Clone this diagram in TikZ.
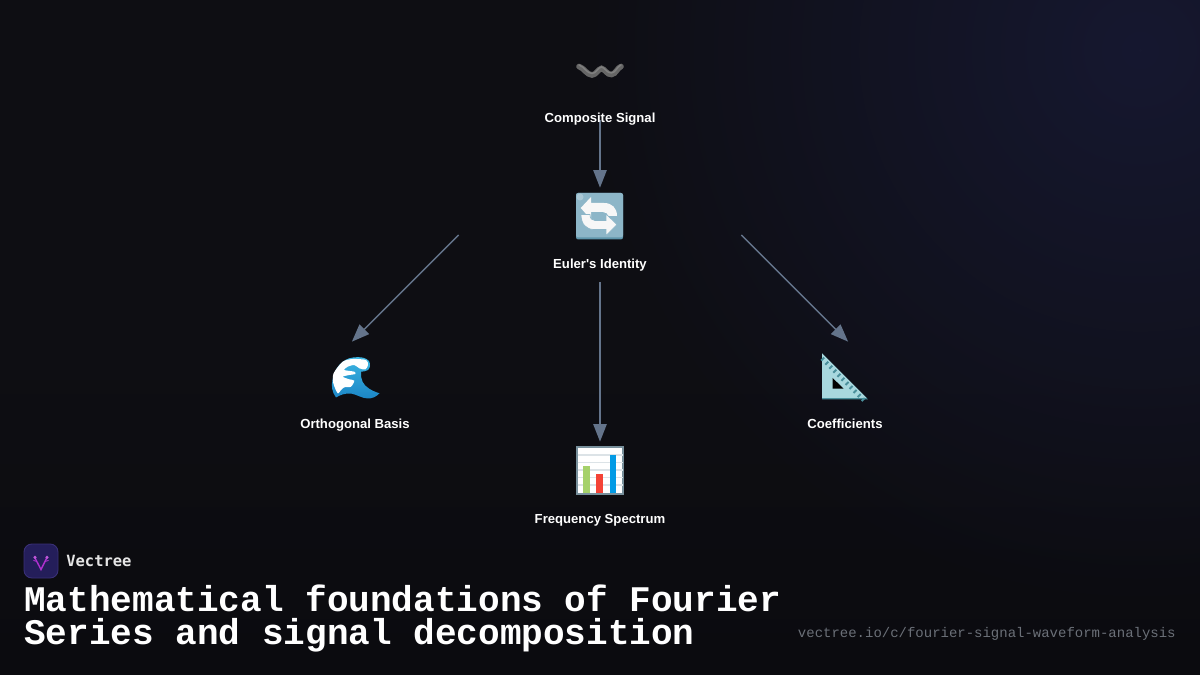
\documentclass[tikz,border=0pt]{standalone}
\usepackage{fontspec}
\setmainfont{Liberation Sans}
\setmonofont{Liberation Mono}
\newfontfamily\brandfont{DejaVu Sans Mono}
\usetikzlibrary{arrows.meta,fadings}
\definecolor{pagebg}{HTML}{0E0E13}
\definecolor{pagelow}{HTML}{0B0B0F}
\definecolor{glowblue}{HTML}{161830}
\definecolor{linkgray}{HTML}{64748B}
\definecolor{urlgray}{HTML}{6B7078}
\definecolor{tilefill}{HTML}{8DB6C8}
\definecolor{tileedge}{HTML}{5F96AC}
\definecolor{seadark}{HTML}{1C86C6}
\definecolor{sealight}{HTML}{3CB6E2}
\definecolor{rulerfill}{HTML}{A8D8DE}
\definecolor{rulerdark}{HTML}{4A8F9B}
\definecolor{logofill}{HTML}{241E5A}
\definecolor{logoedge}{HTML}{3A3078}
\definecolor{logomark}{HTML}{B030D0}
\definecolor{barframe}{HTML}{78909C}
\definecolor{bargrid}{HTML}{DCE3E7}
\definecolor{bargreen}{HTML}{A5D16A}
\definecolor{barred}{HTML}{F44336}
\definecolor{barblue}{HTML}{039BE5}
\tikzfading[name=glowfade, inner color=transparent!0, outer color=transparent!100]
\tikzset{
  hubbox/.style={minimum width=5.64cm, minimum height=1.88cm, inner sep=0pt},
  iconbox/.style={minimum width=1.2cm, minimum height=1.4cm, inner sep=0pt},
  caption/.style={text=white, font=\fontsize{7.47pt}{9pt}\bfseries\selectfont, inner sep=0pt, anchor=base},
  link/.style={draw=linkgray, line width=0.85pt, -{Triangle[length=10pt, width=7.6pt]}},
}
\begin{document}
\begin{tikzpicture}[x=0.02cm, y=-0.02cm]
\useasboundingbox (0,0) rectangle (1200,675);
% background
\shade[top color=pagebg, bottom color=pagelow, middle color=pagebg] (0,0) rectangle (1200,675);
\begin{scope}
\clip (0,0) rectangle (1200,675);
\fill[glowblue, path fading=glowfade] (1140,50) circle (560);
\end{scope}
% boxes
\node[hubbox] (signal) at (600,73) {};
\node[hubbox] (euler) at (600,235) {};
\node[iconbox] (basis) at (355,377) {};
\node[iconbox] (coef) at (845,377) {};
\node[hubbox] (spectrum) at (600,489) {};
% connectors
\draw[link] (signal.south) -- (euler.north);
\draw[link] (euler.west) -- (basis.95);
\draw[link] (euler.east) -- (coef.85);
\draw[link] (euler.south) -- (spectrum.north);
% wave line
\draw[color=black!60, line width=3.2pt, line cap=round] (579,66.5) .. controls (584,68) and (587,75) .. (592,75) .. controls (596,75) and (598,69) .. (601.5,68.5) .. controls (605,69) and (607,75) .. (611.5,74.5) .. controls (616,74) and (617,68) .. (621,66.5);
\draw[color=black!50, line width=0.8pt, line cap=round] (579,65) .. controls (584,66.5) and (587,73.5) .. (592,73.5) .. controls (596,73.5) and (598,67.5) .. (601.5,67) .. controls (605,67.5) and (607,73.5) .. (611.5,73) .. controls (616,72.5) and (617,66.5) .. (621,65);
% repeat tile
\fill[tileedge, rounded corners=1.2pt] (576,193) rectangle (623,239.5);
\fill[tilefill, rounded corners=1.2pt] (576,193) rectangle (623,237.5);
\fill[tilefill!75!white] (580,197) circle (3.5);
\fill[black!3] (580.7,208) -- (591,197) -- (591,203) -- (604,203) .. controls (612,203) and (617,208) .. (617,216) -- (608,216) .. controls (608,214) and (606,212) .. (603,212) -- (591,212) -- (591,219.5) -- cycle;
\fill[black!3, draw=tilefill, line width=0.4pt] (617,224.5) -- (606,235.5) -- (606,229.5) -- (594,229.5) .. controls (586,229.5) and (581,224) .. (581,214.5) -- (590,214.5) .. controls (590,218.5) and (592,220.5) .. (595,220.5) -- (606,220.5) -- (606,214) -- cycle;
% wave
\shade[top color=sealight, bottom color=seadark] (336,397.5) .. controls (332,392) and (331,386) .. (332.5,380) .. controls (334,368) and (343,358.5) .. (353,357.5) .. controls (360,356.5) and (366,357.5) .. (369,361) .. controls (370.5,364) and (370.5,368) .. (368,370) .. controls (366,372) and (363,371) .. (361,371.7) .. controls (361,376) and (361,379) .. (362.7,382) .. controls (365,387) and (372,391) .. (379.5,393.3) .. controls (376,397) and (372,398.5) .. (368,398.5) .. controls (362,398.5) and (357,394.5) .. (351,393.5) .. controls (345,393) and (340,395) .. (336,397.5) -- cycle;
\fill[white] plot[smooth cycle, tension=0.45] coordinates {(337.7,393.3) (333.3,383.3) (333.6,373.3) (342.7,361.7) (352.7,359) (366,360) (368,365) (365.3,369.5) (359.3,368.3) (354.3,365) (347.7,366.7) (344.3,370) (354.3,371.7) (355.3,374) (349.3,375) (342.7,376.7) (349.3,379.3) (354.3,380.7) (351,386.7) (344.3,387.3) (341,390)};
% set square
\fill[rulerdark] (822,353.5) -- (868,399.5) -- (822,399.5) -- cycle;
\fill[rulerfill] (822,353.5) -- (866.5,398) -- (822,398) -- cycle;
\fill[black!90!pagebg] (832.7,378) -- (843.5,388.7) -- (832.7,388.7) -- cycle;
\foreach \t in {0.07,0.16,...,0.97}
  \draw[rulerdark, line width=1.1pt] ({822+45*\t-1},{353.5+45*\t+1}) -- ++(-3,3);
% bars
\fill[white, draw=barframe, line width=0.7pt] (577,447) rectangle (623,494);
\foreach \rowy in {455,462.5,470,477.5,485}
  \draw[bargrid, line width=0.8pt] (577.5,\rowy) -- (622.5,\rowy);
\fill[bargreen] (583,466) rectangle (590,493);
\fill[barred] (596,474) rectangle (603,493);
\fill[barblue] (610,455) rectangle (616,493);
% captions
\node[caption] (signallabel) at (600,123) {Composite Signal};
\node[caption] (eulerlabel) at (600,269) {Euler\textquotesingle s Identity};
\node[caption] (basislabel) at (355,428) {Orthogonal Basis};
\node[caption] (coeflabel) at (845,428) {Coefficients};
\node[caption] (spectrumlabel) at (600,523) {Frequency Spectrum};
% logo
\fill[logofill, draw=logoedge, line width=0.5pt, rounded corners=4.5pt] (24,544) rectangle (58,578);
\draw[logomark, line width=0.8pt] (35,558) -- (41,569.5) -- (47,557.5);
\draw[logomark, line width=0.5pt] (36.8,561.5) -- (33.4,560.4) (45.2,561.5) -- (48.6,560.4);
\fill[logomark!80!white] (35,557.3) circle (1.7) (47,557.3) circle (1.7);
\node[text=black!10, font=\fontsize{8.8pt}{11pt}\brandfont\bfseries\selectfont, anchor=base west, inner sep=0pt] (brand) at (66,566) {Vectree};
% footer
\node[text=white, font=\fontsize{20.51pt}{18.7pt}\ttfamily\bfseries\selectfont, align=left, anchor=north west, inner sep=0pt] (title) at (24,584.5) {Mathematical foundations of Fourier\\Series and signal decomposition};
\node[text=urlgray, font=\fontsize{7.96pt}{10pt}\ttfamily\selectfont, anchor=base east, inner sep=0pt] (url) at (1176,637.5) {vectree.io/c/fourier-signal-waveform-analysis};
\end{tikzpicture}
\end{document}
